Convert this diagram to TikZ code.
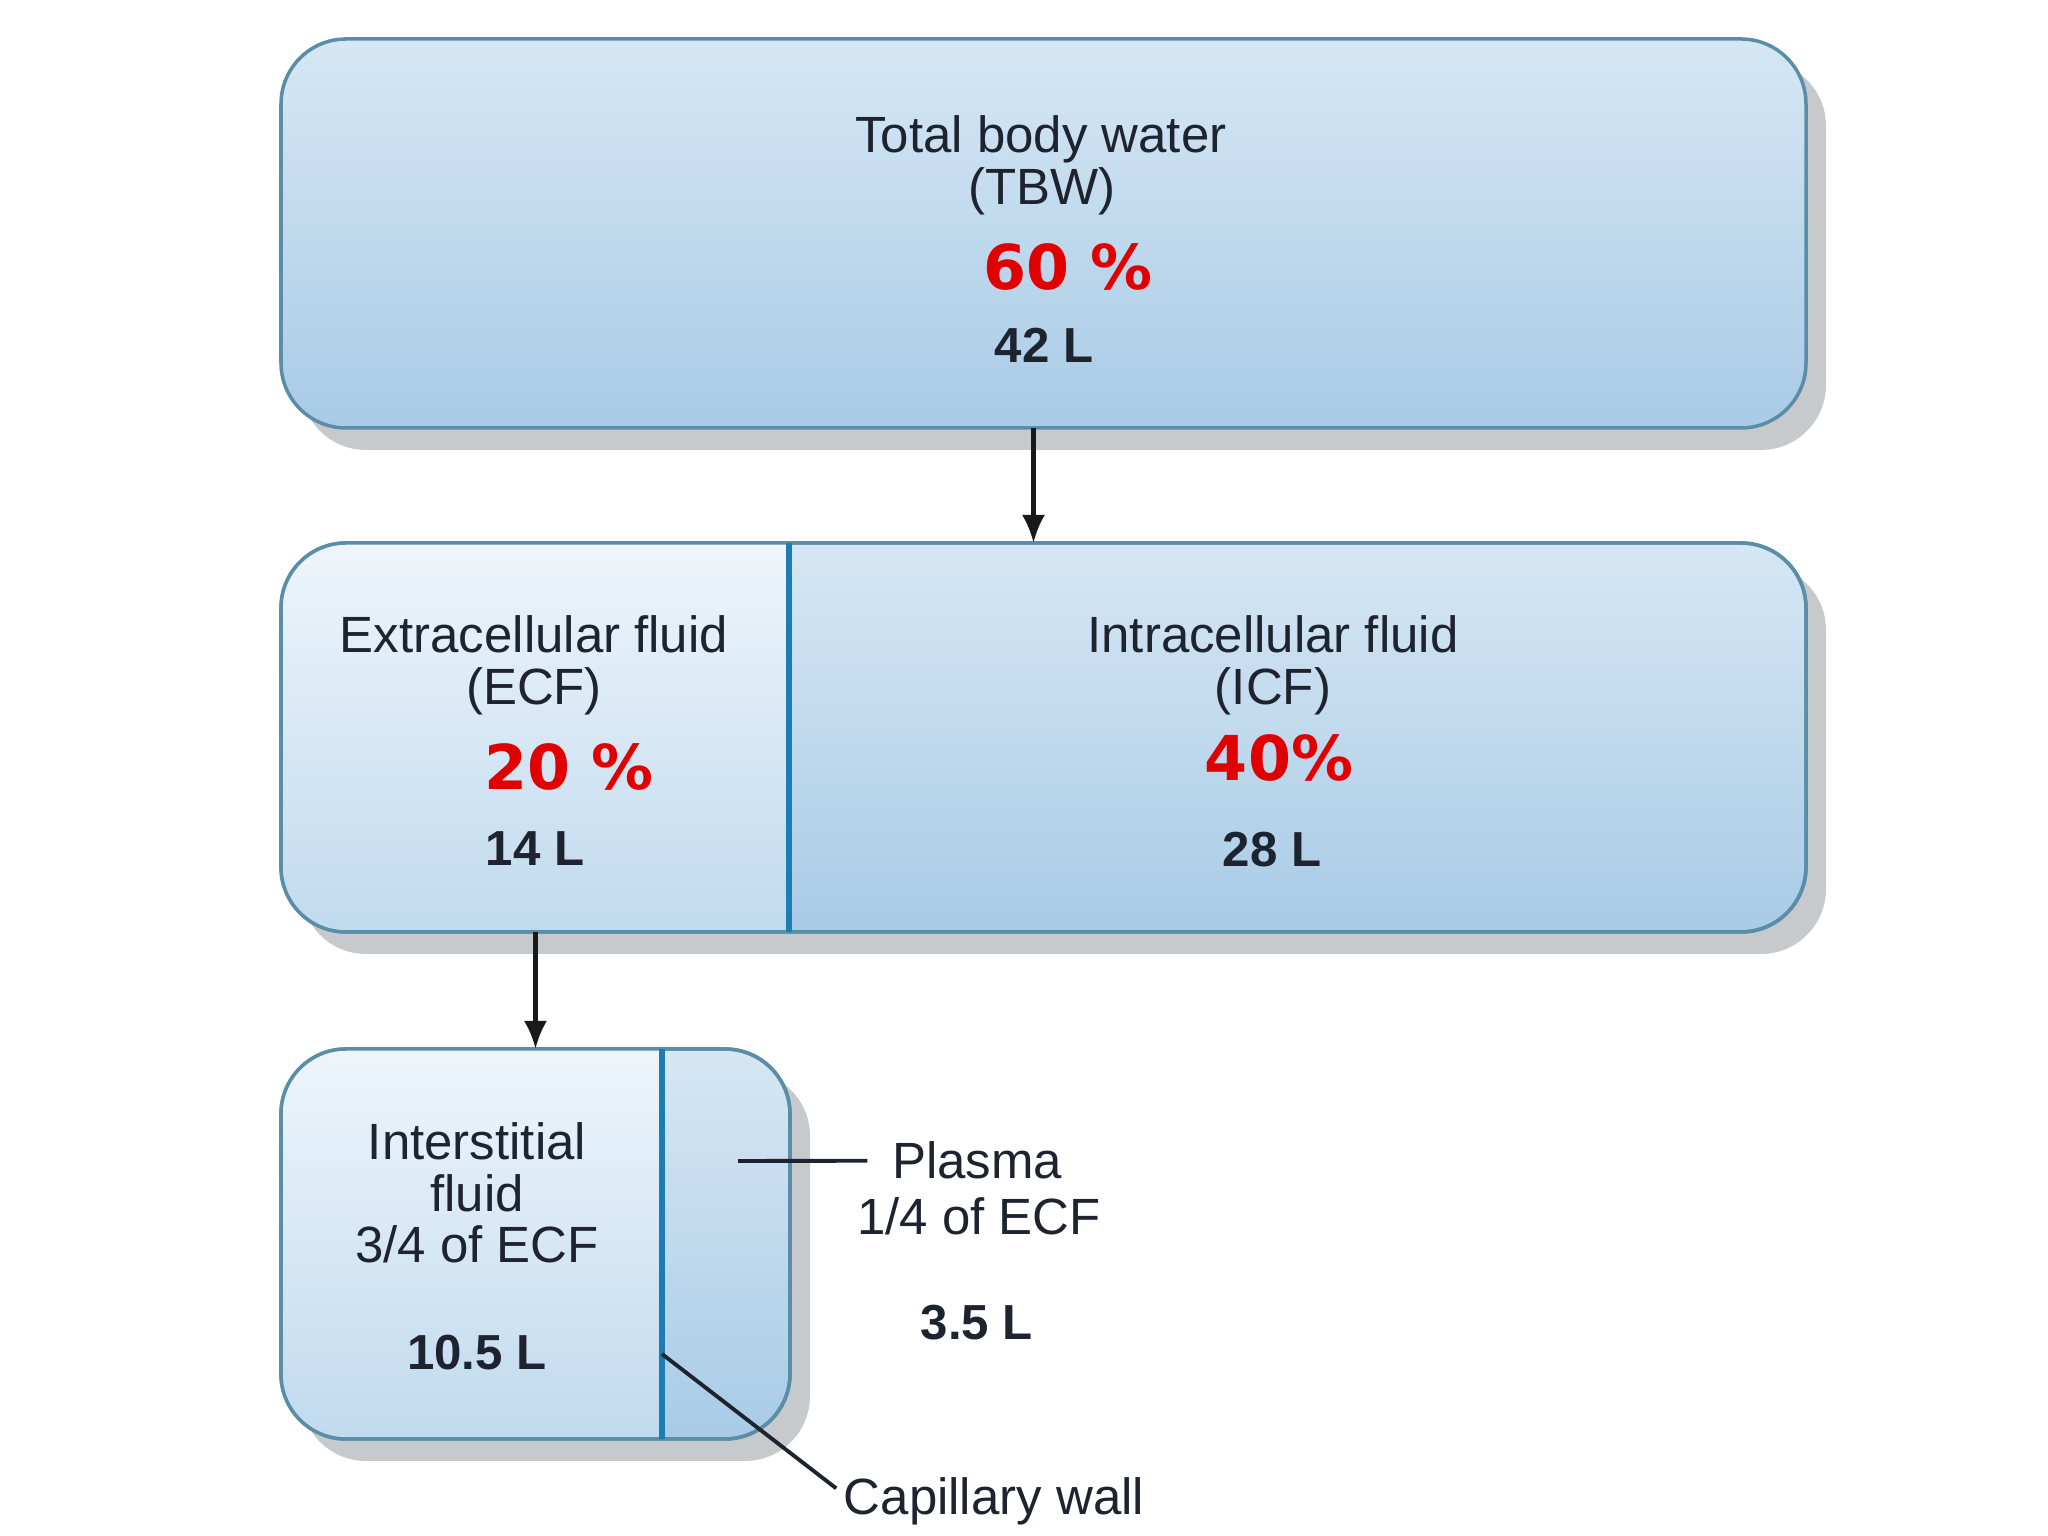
\documentclass[tikz,border=0pt]{standalone}
\usepackage{fontspec}
\setmainfont{Liberation Sans}
\newfontfamily\pctfont{DejaVu Sans}
\usetikzlibrary{arrows.meta, positioning, calc, shadows}

\definecolor{edgeblue}{HTML}{5A8DA8}
\definecolor{wallblue}{HTML}{1B7DB4}
\definecolor{boxtop}{HTML}{D6E7F4}
\definecolor{boxbot}{HTML}{A9CBE6}
\definecolor{lighttop}{HTML}{EEF5FB}
\definecolor{lightbot}{HTML}{C0DAEE}
\definecolor{shadowgray}{HTML}{C6CACD}
\definecolor{pctred}{HTML}{E00000}
\definecolor{inktext}{HTML}{1E2330}

\begin{document}
\begin{tikzpicture}[
    font=\fontsize{14.5}{17}\selectfont, text=inktext,
    box/.style={rounded corners=0.65cm, outer sep=0pt, inner sep=0pt,
                draw=edgeblue, line width=1pt,
                top color=boxtop, bottom color=boxbot,
                drop shadow={shadow xshift=0.2cm, shadow yshift=-0.22cm,
                             fill=shadowgray, opacity=1}},
    rim/.style={draw=edgeblue, line width=1pt, rounded corners=0.65cm},
    wall/.style={draw=wallblue, line width=1.5pt},
    lbl/.style={anchor=base, inner sep=0pt},
    vol/.style={lbl, font=\fontsize{14}{17}\selectfont\bfseries},
    pct/.style={lbl, font=\pctfont\fontsize{17.6}{20}\selectfont\bfseries, text=pctred},
    arr/.style={-{Latex[length=2.8mm, width=2.3mm]}, line width=1.2pt, draw=black!90},
    lead/.style={draw=inktext, line width=1.1pt},
]
    \useasboundingbox (0,0) rectangle (20.48,15.36);

    %==================== TOTAL BODY WATER ====================
    \node[box, minimum width=15.25cm, minimum height=3.89cm] (tbw) at (10.435,13.025) {};
    \node[lbl] (tbwname) at (10.41,13.83) {Total body water};
    \node[lbl] (tbwabbr) at (10.42,13.31) {(TBW)};
    \node[pct] (tbwpct) at (10.68,12.46) {60 \%};
    \node[vol] (tbwvol) at (10.44,11.73) {42 L};

    %==================== ECF | ICF ====================
    \node[box, below=1.15cm of tbw, minimum width=15.25cm, minimum height=3.89cm] (mid) {};
    \coordinate (ecfedge) at ($(mid.north west)+(5.08,0)$);
    \begin{scope}
        \clip[rounded corners=0.65cm] (mid.south west) rectangle (mid.north east);
        \shade[top color=lighttop, bottom color=lightbot] (mid.south west) rectangle (ecfedge);
    \end{scope}
    \path[rim] (mid.south west) rectangle (mid.north east);
    \draw[wall] (ecfedge) -- (ecfedge |- mid.south);
    \draw[arr] ([xshift=-1mm]tbw.south) -- ([xshift=-1mm]mid.north);

    \node[lbl] (ecfname) at (5.34,8.83) {Extracellular fluid};
    \node[lbl] (ecfabbr) at (5.34,8.31) {(ECF)};
    \node[pct] (ecfpct) at (5.69,7.46) {20 \%};
    \node[vol] (ecfvol) at (5.35,6.70) {14 L};

    \node[lbl] (icfname) at (12.73,8.83) {Intracellular fluid};
    \node[lbl] (icfabbr) at (12.73,8.31) {(ICF)};
    \node[pct] (icfpct) at (12.79,7.55) {40\%};
    \node[vol] (icfvol) at (12.72,6.69) {28 L};

    %==================== INTERSTITIAL | PLASMA ====================
    \node[box, below=1.17cm of mid.south west, anchor=north west,
          minimum width=5.09cm, minimum height=3.9cm] (isf) {};
    \coordinate (capedge) at ($(isf.north west)+(3.81,0)$);
    \begin{scope}
        \clip[rounded corners=0.65cm] (isf.south west) rectangle (isf.north east);
        \shade[top color=lighttop, bottom color=lightbot] (isf.south west) rectangle (capedge);
    \end{scope}
    \path[rim] (isf.south west) rectangle (isf.north east);
    \draw[wall] (capedge) -- (capedge |- isf.south);
    \draw[arr] (isf.north |- mid.south) -- (isf.north);

    \node[lbl] (isfname) at (4.77,3.76) {Interstitial};
    \node[lbl] (isfname2) at (4.77,3.24) {fluid};
    \node[lbl] (isffrac) at (4.77,2.73) {3/4 of ECF};
    \node[vol] (isfvol) at (4.77,1.66) {10.5 L};

    %==================== side labels ====================
    \node[lbl] (plasma) at (9.77,3.57) {Plasma};
    \node[lbl] (plasmafrac) at (9.79,3.01) {1/4 of ECF};
    \node[vol] (plasmavol) at (9.77,1.96) {3.5 L};
    \coordinate (plasmapt) at ($(isf.north west)+(4.57,-1.12)$);
    \draw[lead] (plasmapt) -- ([xshift=-2.4mm]plasma.west);

    \node[lbl] (capwall) at (9.94,0.21) {Capillary wall};
    \coordinate (wallpt) at ($(isf.north west)+(3.81,-3.05)$);
    \draw[lead] (wallpt) -- ([xshift=-0.7mm, yshift=-1.1mm]capwall.north west);

\end{tikzpicture}
\end{document}
